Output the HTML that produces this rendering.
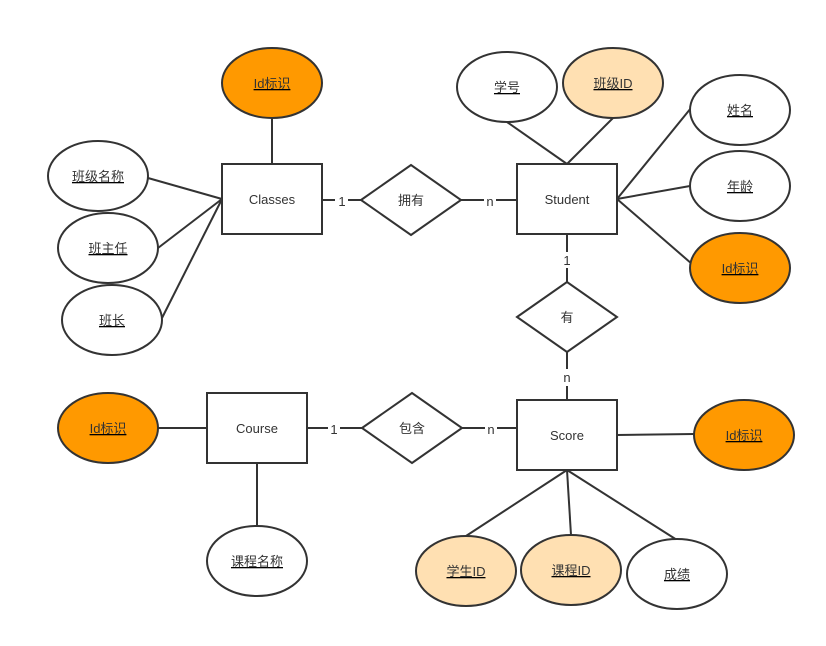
<!DOCTYPE html>
<html><head><meta charset="utf-8"><style>
html,body{margin:0;padding:0;background:#fff;}
svg text{font-family:"Liberation Sans","Noto Sans CJK SC",sans-serif;font-size:13px;fill:#333;}
</style></head><body>
<svg width="826" height="641" viewBox="0 0 826 641" xmlns="http://www.w3.org/2000/svg">
<g stroke="#333" stroke-width="2" fill="none">
<line x1="272" y1="118" x2="272" y2="164"/>
<line x1="222" y1="199" x2="148" y2="178"/>
<line x1="222" y1="199" x2="158" y2="248"/>
<line x1="222" y1="199" x2="162" y2="318"/>
<line x1="322" y1="200" x2="335" y2="200"/><line x1="348" y1="200" x2="361" y2="200"/>
<line x1="461" y1="200" x2="484" y2="200"/><line x1="496" y1="200" x2="517" y2="200"/>
<line x1="567" y1="164" x2="507" y2="122"/>
<line x1="567" y1="164" x2="613" y2="118"/>
<line x1="617" y1="199" x2="691" y2="108"/>
<line x1="617" y1="199" x2="690" y2="186"/>
<line x1="617" y1="199" x2="692" y2="264"/>
<line x1="567" y1="234" x2="567" y2="252"/><line x1="567" y1="268" x2="567" y2="282"/>
<line x1="567" y1="352" x2="567" y2="369"/><line x1="567" y1="386" x2="567" y2="400"/>
<line x1="617" y1="435" x2="694" y2="434"/>
<line x1="567" y1="470" x2="466" y2="536"/>
<line x1="567" y1="470" x2="571" y2="535"/>
<line x1="567" y1="470" x2="677" y2="540"/>
<line x1="307" y1="428" x2="328" y2="428"/><line x1="340" y1="428" x2="362" y2="428"/>
<line x1="462" y1="428" x2="485" y2="428"/><line x1="497" y1="428" x2="521" y2="428"/>
<line x1="158" y1="428" x2="207" y2="428"/>
<line x1="257" y1="463" x2="257" y2="526"/>
</g>
<g stroke="#333" stroke-width="2">
<ellipse cx="272" cy="83" rx="50" ry="35" fill="#FF9900"/>
<ellipse cx="98" cy="176" rx="50" ry="35" fill="#fff"/>
<ellipse cx="108" cy="248" rx="50" ry="35" fill="#fff"/>
<ellipse cx="112" cy="320" rx="50" ry="35" fill="#fff"/>
<ellipse cx="507" cy="87" rx="50" ry="35" fill="#fff"/>
<ellipse cx="613" cy="83" rx="50" ry="35" fill="#FFE0B2"/>
<ellipse cx="740" cy="110" rx="50" ry="35" fill="#fff"/>
<ellipse cx="740" cy="186" rx="50" ry="35" fill="#fff"/>
<ellipse cx="740" cy="268" rx="50" ry="35" fill="#FF9900"/>
<ellipse cx="744" cy="435" rx="50" ry="35" fill="#FF9900"/>
<ellipse cx="466" cy="571" rx="50" ry="35" fill="#FFE0B2"/>
<ellipse cx="571" cy="570" rx="50" ry="35" fill="#FFE0B2"/>
<ellipse cx="677" cy="574" rx="50" ry="35" fill="#fff"/>
<ellipse cx="108" cy="428" rx="50" ry="35" fill="#FF9900"/>
<ellipse cx="257" cy="561" rx="50" ry="35" fill="#fff"/>
<rect x="222" y="164" width="100" height="70" fill="#fff"/>
<rect x="517" y="164" width="100" height="70" fill="#fff"/>
<rect x="517" y="400" width="100" height="70" fill="#fff"/>
<rect x="207" y="393" width="100" height="70" fill="#fff"/>
<polygon points="361,200 411,165 461,200 411,235" fill="#fff"/>
<polygon points="517,317 567,282 617,317 567,352" fill="#fff"/>
<polygon points="362,428 412,393 462,428 412,463" fill="#fff"/>
</g>
<g text-anchor="middle" text-decoration="underline">
<text x="272" y="88">Id标识</text>
<text x="98" y="181">班级名称</text>
<text x="108" y="253">班主任</text>
<text x="112" y="325">班长</text>
<text x="507" y="92">学号</text>
<text x="613" y="88">班级ID</text>
<text x="740" y="115">姓名</text>
<text x="740" y="191">年龄</text>
<text x="740" y="273">Id标识</text>
<text x="744" y="440">Id标识</text>
<text x="466" y="576">学生ID</text>
<text x="571" y="575">课程ID</text>
<text x="677" y="579">成绩</text>
<text x="108" y="433">Id标识</text>
<text x="257" y="566">课程名称</text>
</g>
<g text-anchor="middle">
<text x="272" y="204">Classes</text>
<text x="567" y="204">Student</text>
<text x="567" y="440">Score</text>
<text x="257" y="433">Course</text>
<text x="411" y="205">拥有</text>
<text x="567" y="322">有</text>
<text x="412" y="433">包含</text>
<text x="342" y="206">1</text>
<text x="490" y="206">n</text>
<text x="567" y="265">1</text>
<text x="567" y="382">n</text>
<text x="334" y="434">1</text>
<text x="491" y="434">n</text>
</g>
</svg>
</body></html>
